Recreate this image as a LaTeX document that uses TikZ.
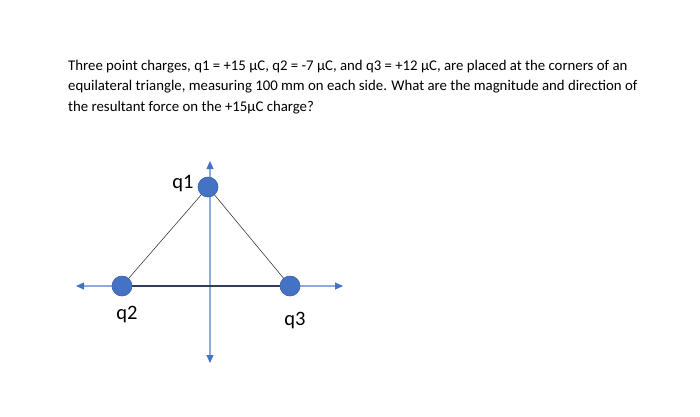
\documentclass[tikz,border=0pt]{standalone}
\usepackage{fontspec}
\setmainfont{Carlito}
\usepackage{tikz}
\usetikzlibrary{arrows.meta}
\usetikzlibrary{backgrounds}
\usepackage{color}
\definecolor{chargeblue}{RGB}{68, 114, 196}
\definecolor{axisblue}{RGB}{143, 170, 220}
\definecolor{basedark}{RGB}{47, 62, 85}
\definecolor{edgegray}{RGB}{60, 60, 60}

\begin{document}
\begin{tikzpicture}[x=1pt, y=-1pt,
    charge/.style={circle, fill=chargeblue, draw=chargeblue!85!black, line width=0.6pt,
                   minimum width=20pt, minimum height=19pt, inner sep=0pt},
    qlabel/.style={font=\fontsize{20.5}{23}\selectfont, text=black},
    qtext/.style={anchor=west, font=\fontsize{14.8}{18}\selectfont, text=black, inner sep=0pt},
    axisline/.style={color=axisblue, line width=1.1pt, {-Triangle[color=chargeblue, length=8pt, width=7pt]}},
    sideline/.style={color=edgegray, line width=0.6pt},
    baseline/.style={color=basedark, line width=1.6pt}]
            % Frame to fix the size:
            \useasboundingbox                                     (0, 0) rectangle (700, 416);
            % Question
            \node[qtext] (line1) at (68, 67)  {Three point charges, q1 = +15 µC, q2 = -7 µC, and q3 = +12 µC, are placed at the corners of an};
            \node[qtext] (line2) at (68, 87)  {equilateral triangle, measuring 100 mm on each side. What are the magnitude and direction of};
            \node[qtext] (line3) at (68, 108) {the resultant force on the +15µC charge?};
            % Charges
            \node[charge] (q1) at (208, 187) {};
            \node[charge] (q2) at (122, 286) {};
            \node[charge] (q3) at (290, 286) {};
            \node[qlabel] (q1lbl) at (183, 184) {q1};
            \node[qlabel] (q2lbl) at (127, 314) {q2};
            \node[qlabel] (q3lbl) at (295, 320) {q3};
            % Axis ends
            \coordinate (top)    at (210, 161);
            \coordinate (bottom) at (210, 363);
            \coordinate (left)   at (76, 286);
            \coordinate (right)  at (343, 286);
            \coordinate (origin) at (210, 286);
            % Axes & triangle behind the charges
            \begin{scope}[on background layer]
            \draw[axisline] (origin) -- (top);
            \draw[axisline] (origin) -- (bottom);
            \draw[axisline] (origin) -- (left);
            \draw[axisline] (origin) -- (right);
            \draw[sideline] (q1.center) -- (q2.center);
            \draw[sideline] (q1.center) -- (q3.center);
            \draw[baseline] (q2.center) -- (q3.center);
            \end{scope}
\end{tikzpicture}
\end{document}
